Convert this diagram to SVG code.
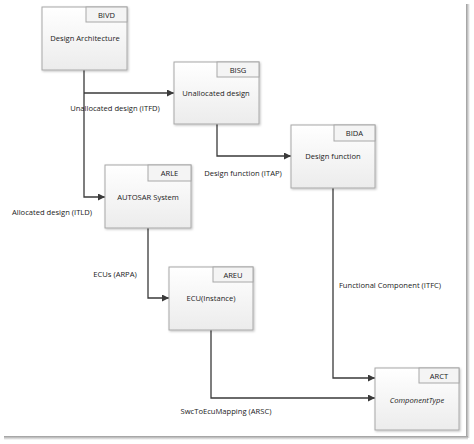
<svg xmlns="http://www.w3.org/2000/svg" width="474" height="444" viewBox="0 0 474 444">
<defs>
<linearGradient id="g" x1="0" y1="0" x2="0" y2="1">
<stop offset="0" stop-color="#ffffff"/>
<stop offset="1" stop-color="#ececec"/>
</linearGradient>
<linearGradient id="sr" x1="0" y1="0" x2="1" y2="0">
<stop offset="0" stop-color="#9a9a9a"/>
<stop offset="1" stop-color="#ffffff"/>
</linearGradient>
<linearGradient id="sb" x1="0" y1="0" x2="0" y2="1">
<stop offset="0" stop-color="#9a9a9a"/>
<stop offset="1" stop-color="#ffffff"/>
</linearGradient>
<marker id="ah" viewBox="0 0 10 10" refX="10" refY="5" markerWidth="7" markerHeight="7" markerUnits="userSpaceOnUse" orient="auto">
<path d="M0,0 L10,5 L0,10 z" fill="#3a3a3a"/>
</marker>
<filter id="sh" x="-10%" y="-10%" width="130%" height="130%">
<feDropShadow dx="1" dy="1" stdDeviation="0.8" flood-color="#000" flood-opacity="0.25"/>
</filter>
</defs>
<style>
.box{fill:url(#g);stroke:#a8a8a8;stroke-width:1;filter:url(#sh)}
.tab{fill:#f4f4f4;stroke:#a8a8a8;stroke-width:1}
.t{font-family:"Open Sans","Liberation Sans",sans-serif;font-size:7.6px;fill:#222;text-anchor:middle}
.lbl{font-family:"Open Sans","Liberation Sans",sans-serif;font-size:7.6px;fill:#222;text-anchor:middle}
.c{fill:none;stroke:#3a3a3a;stroke-width:1.3;marker-end:url(#ah)}
</style>
<rect x="0" y="0" width="474" height="444" fill="#ffffff"/>
<rect x="466" y="4" width="4" height="434" fill="url(#sr)"/>
<rect x="4" y="436" width="464" height="4" fill="url(#sb)"/>
<g id="connectors">
<path class="c" d="M84,70 V197 H105"/>
<path class="c" d="M84,93 H174"/>
<path class="c" d="M217,124 V156 H291"/>
<path class="c" d="M148,228 V298 H169"/>
<path class="c" d="M333,188 V378 H375"/>
<path class="c" d="M211,330 V398 H375"/>
<text class="lbl" x="115" y="111">Unallocated design (ITFD)</text>
<text class="lbl" x="52" y="215">Allocated design (ITLD)</text>
<text class="lbl" x="243" y="176">Design function (ITAP)</text>
<text class="lbl" x="115" y="277">ECUs (ARPA)</text>
<text class="lbl" x="390" y="288">Functional Component (ITFC)</text>
<text class="lbl" x="226" y="414">SwcToEcuMapping (ARSC)</text>
</g>
<g id="BIVD">
<rect class="box" x="42" y="7" width="85" height="63"/>
<rect class="tab" x="86" y="7" width="41" height="15"/>
<text class="t" x="106.5" y="17.5">BIVD</text>
<text class="t" x="85" y="41">Design Architecture</text>
</g>
<g id="BISG">
<rect class="box" x="174" y="62" width="85" height="62"/>
<rect class="tab" x="217" y="62" width="42" height="15"/>
<text class="t" x="238" y="72.5">BISG</text>
<text class="t" x="216" y="96">Unallocated design</text>
</g>
<g id="BIDA">
<rect class="box" x="291" y="125" width="84" height="63"/>
<rect class="tab" x="334" y="125" width="41" height="16"/>
<text class="t" x="354.5" y="136">BIDA</text>
<text class="t" x="333" y="159">Design function</text>
</g>
<g id="ARLE">
<rect class="box" x="105" y="165" width="86" height="63"/>
<rect class="tab" x="148" y="165" width="43" height="16"/>
<text class="t" x="169.5" y="176">ARLE</text>
<text class="t" x="148" y="200">AUTOSAR System</text>
</g>
<g id="AREU">
<rect class="box" x="169" y="267" width="84" height="63"/>
<rect class="tab" x="213" y="267" width="40" height="15"/>
<text class="t" x="233" y="277.5">AREU</text>
<text class="t" x="211" y="301">ECU(Instance)</text>
</g>
<g id="ARCT">
<rect class="box" x="375" y="368" width="84" height="62"/>
<rect class="tab" x="419" y="368" width="40" height="15"/>
<text class="t" x="439" y="378.5">ARCT</text>
<text class="t" x="417" y="403" font-style="italic">ComponentType</text>
</g>
</svg>
